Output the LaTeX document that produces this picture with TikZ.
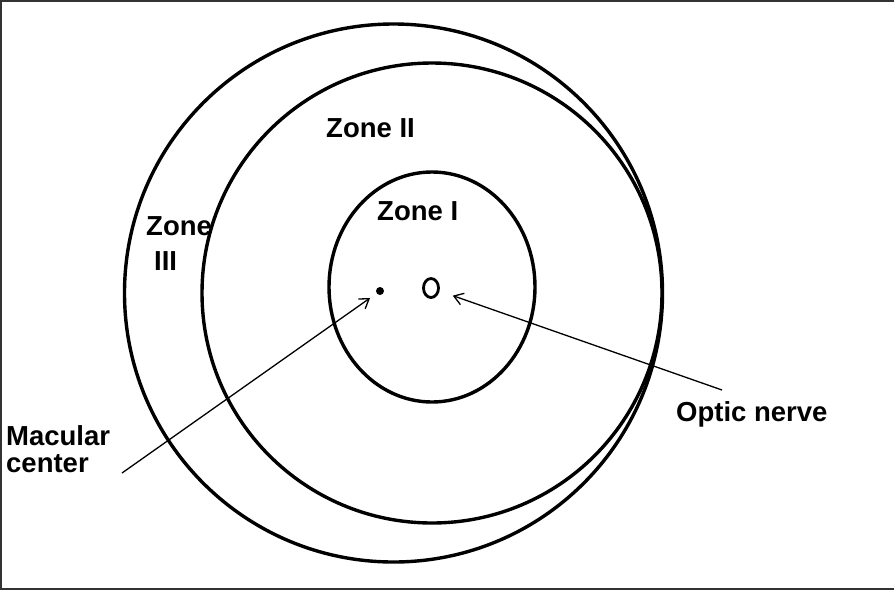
\documentclass[tikz,border=0pt]{standalone}
\usepackage{fontspec}
\setmainfont{Liberation Sans}
\usetikzlibrary{arrows.meta,shapes.geometric}
\begin{document}
\begin{tikzpicture}[x=1pt,y=-1pt,
  ring/.style={draw=black,line width=3.4pt},
  lbl/.style={inner sep=0pt,anchor=base west,font=\fontsize{27.5}{32}\selectfont\bfseries},
  pointer/.style={draw=black,line width=1.3pt,-{Straight Barb[length=9pt,width=12pt,line width=1.3pt]}},
  frameline/.style={draw=black!80,line width=2pt}]
\useasboundingbox (0,0) rectangle (894,590);
\fill[white] (0,0) rectangle (894,590);
% frame (top, left, bottom)
\coordinate (tl) at (0,1);
\coordinate (tr) at (894,1);
\coordinate (bl) at (0,588.5);
\coordinate (br) at (894,588.5);
\draw[frameline] (tr) -- (tl);
\draw[frameline] (1,0) -- (1,590);
\draw[frameline] (bl) -- (br);
% zones
\node[ring,circle,minimum size=538pt,inner sep=0pt] (z3) at (393.5,293) {};
\node[ring,circle,minimum size=460pt,inner sep=0pt] (z2) at (432,293) {};
\node[ring,ellipse,minimum width=206pt,minimum height=230pt,inner sep=0pt] (z1) at (432,287) {};
% labels
\node[lbl] (l2) at (326,137) {Zone II};
\node[lbl] (l1) at (377,220) {Zone I};
\node[lbl] (l3a) at (146,235) {Zone};
\node[lbl] (l3b) at (154,270) {III};
\node[lbl] (lm1) at (6,445) {Macular};
\node[lbl] (lm2) at (6,472) {center};
\node[lbl] (lo) at (676,421) {Optic nerve};
% macula and optic nerve
\node[circle,fill=black,minimum size=8pt,inner sep=0pt] (mac) at (380,291) {};
\node[ellipse,draw=black,line width=2.8pt,minimum width=15pt,minimum height=19pt,inner sep=0pt] (on) at (431,288) {};
% pointers
\coordinate (macstart) at (122,473);
\coordinate (onstart) at (722,390);
\draw[pointer,shorten >=8pt] (macstart) -- (mac);
\draw[pointer,shorten >=14pt] (onstart) -- (on);
\end{tikzpicture}
\end{document}
